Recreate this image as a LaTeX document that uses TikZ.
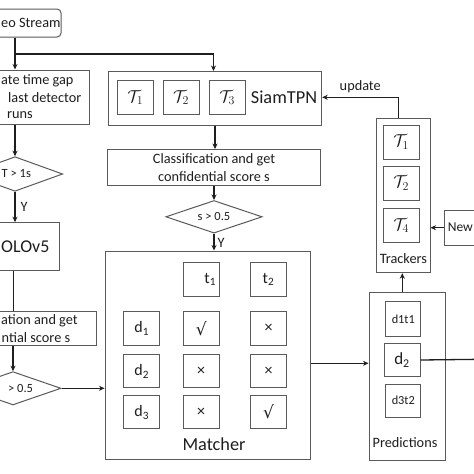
\documentclass[tikz,border=0pt]{standalone}
\usepackage{fontspec}
\setmainfont{Carlito}
\newfontfamily\symfont{DejaVu Sans}
\usetikzlibrary{shapes.geometric,arrows.meta,calc}
\definecolor{boxgray}{HTML}{5A5A5A}
\definecolor{ink}{HTML}{1E1E1E}
\tikzset{
  bx/.style={draw=boxgray,line width=1pt,inner sep=0pt,text=ink,align=center,
    font=\fontsize{14.3}{18}\selectfont},
  dia/.style={draw=boxgray,line width=1pt,diamond,aspect=2.75,inner sep=0pt,text=ink,
    font=\fontsize{12.5}{15}\selectfont},
  cell/.style={bx,minimum width=36pt,minimum height=33.6pt},
  lbl/.style={text=ink,inner sep=0pt,font=\fontsize{14.3}{18}\selectfont},
  small/.style={text=ink,inner sep=0pt,font=\fontsize{12.5}{15}\selectfont},
  big/.style={text=ink,inner sep=0pt,font=\fontsize{18.3}{22}\selectfont},
  conn/.style={draw=ink,line width=1.3pt},
  arr/.style={conn,-{Stealth[length=5.5pt,width=5pt]}},
}
\newcommand{\calT}[1]{\fontsize{18}{20}\selectfont$\mathcal{T}_{#1}$}
\newcommand{\dsub}[1]{\fontsize{16}{18}\selectfont d\textsubscript{#1}}
\begin{document}
\begin{tikzpicture}[x=1pt,y=-1pt]
\useasboundingbox (0,0) rectangle (474,474);
\fill[white] (0,0) rectangle (474,474);
\clip (0,0) rectangle (474,474);

% left column (cut by the picture's left edge)
\node[bx,rounded corners=4pt,minimum width=86pt,minimum height=28pt] (video) at (18,23) {};
\node[lbl,anchor=west] (videolbl) at (1,23) {eo Stream};
\node[bx,minimum width=136pt,minimum height=54pt] (calc) at (21,97) {};
\node[lbl,anchor=west] (calc1) at (1,81) {ate time gap};
\node[lbl,anchor=west] (calc2) at (8,98) {last detector};
\node[lbl,anchor=west] (calc3) at (7,115) {runs};
\node[dia,minimum width=95.4pt,minimum height=34.6pt] (dt) at (15,174) {};
\node[small,anchor=west] (dtlbl) at (1.5,174) {T > 1s};
\node[bx,minimum width=89pt,minimum height=48pt] (yolo) at (14.5,246.7) {};
\node[text=ink,inner sep=0pt,font=\fontsize{18}{22}\selectfont,anchor=west] (yololbl) at (1,246.7) {OLOv5};
\node[bx,minimum width=161.4pt,minimum height=34pt] (clsl) at (16,328.7) {};
\node[lbl,anchor=west] (clsl1) at (1,320.5) {ation and get};
\node[lbl,anchor=west] (clsl2) at (1.5,337.5) {ntial score s};
\node[dia,minimum width=96pt,minimum height=33.3pt] (sl) at (13,388.3) {};
\node[small,anchor=west] (sllbl) at (8,388.3) {> 0.5};

% SiamTPN
\node[bx,minimum width=213.4pt,minimum height=53.5pt] (siam) at (215,98.25) {};
\node[cell] (st1) at (135.3,97.5) {\calT{1}};
\node[cell] (st2) at (181,97.5) {\calT{2}};
\node[cell] (st3) at (227.2,97.5) {\calT{3}};
\node[big,anchor=west] (siamlbl) at (250.7,97.3) {SiamTPN};
\node[bx,minimum width=213.4pt,minimum height=35.5pt] (clsm) at (214,167.3) {Classification and get\\confidential score s};
\node[dia,minimum width=96.3pt,minimum height=32.6pt] (sm) at (214,216.8) {s > 0.5};

% Matcher
\node[bx,minimum width=205.7pt,minimum height=208pt] (matcher) at (207.9,355) {};
\node[cell,minimum width=35.7pt,minimum height=33.3pt] (t1) at (201.2,279.4) {\fontsize{16}{18}\selectfont\hspace*{18pt}t\textsubscript{1}};
\node[cell,minimum width=35.7pt,minimum height=33.3pt] (t2) at (268.5,279.4) {\fontsize{16}{18}\selectfont t\textsubscript{2}};
\node[cell,minimum width=36.5pt,minimum height=33.5pt] (d1) at (141.7,328.5) {\dsub{1}};
\node[cell,minimum width=36.5pt,minimum height=33.5pt] (d2) at (141.7,371.2) {\dsub{2}};
\node[cell,minimum width=36.5pt,minimum height=33.5pt] (d3) at (141.7,412.2) {\dsub{3}};
\node[cell,minimum width=35.7pt,minimum height=33.5pt] (m11) at (201.2,328.5) {\fontsize{17}{18}\selectfont\symfont √};
\node[cell,minimum width=35.7pt,minimum height=33.5pt] (m12) at (268.5,328.5) {\fontsize{16}{18}\selectfont ×};
\node[cell,minimum width=35.7pt,minimum height=33.5pt] (m21) at (201.2,371.2) {\fontsize{16}{18}\selectfont ×};
\node[cell,minimum width=35.7pt,minimum height=33.5pt] (m22) at (268.5,371.2) {\fontsize{16}{18}\selectfont ×};
\node[cell,minimum width=35.7pt,minimum height=33.5pt] (m31) at (201.2,412.2) {\fontsize{16}{18}\selectfont ×};
\node[cell,minimum width=35.7pt,minimum height=33.5pt] (m32) at (268.5,412.2) {\fontsize{17}{18}\selectfont\symfont √};
\node[big] (matchlbl) at (214,444) {Matcher};

% Trackers
\node[bx,minimum width=53.3pt,minimum height=154.4pt] (trackers) at (403.35,195.5) {};
\node[cell,minimum width=35.7pt,minimum height=34pt] (tr1) at (401.2,142) {\calT{1}};
\node[cell,minimum width=35.7pt,minimum height=34pt] (tr2) at (401.2,183.3) {\calT{2}};
\node[cell,minimum width=35.7pt,minimum height=34pt] (tr4) at (401.2,225.5) {\calT{4}};
\node[lbl] (trlbl) at (403.35,259) {Trackers};
\node[bx,minimum width=50pt,minimum height=35pt] (new) at (469,227.5) {};
\node[text=ink,inner sep=0pt,font=\fontsize{13.5}{16}\selectfont,anchor=east] (newlbl) at (473,227.5) {New};

% Predictions
\node[bx,minimum width=76pt,minimum height=167.7pt] (pred) at (407,376.2) {};
\node[cell,minimum width=35.3pt,minimum height=34.3pt,font=\fontsize{12.3}{14}\selectfont] (p1) at (403.3,318.9) {d1t1};
\node[cell,minimum width=36pt,minimum height=33.4pt] (p2) at (402,360) {\fontsize{17}{18}\selectfont d\textsubscript{2}};
\node[cell,minimum width=35.3pt,minimum height=33.4pt,font=\fontsize{12.3}{14}\selectfont] (p3) at (403.3,400.7) {d3t2};
\node[lbl] (predlbl) at (405,442.7) {Predictions};
\coordinate (pout) at (480,359.3);
\coordinate (split) at (15,54);

% connectors
\draw[arr] (video.south -| split) -- (calc.north -| split);
\draw[arr] (split) -| (213.5,0 |- siam.north);
\draw[arr] (calc.south -| dt.north) -- (dt.north);
\draw[arr] (dt.south) -- (yolo.north -| dt.south) node[lbl,pos=0.5,right=5pt] {Y};
\draw[conn] (yolo.south -| 13.5,0) -- (clsl.north -| 13.5,0);
\draw[arr] (clsl.south -| sl.north) -- (sl.north);
\draw[arr] (sl.east) -- (sl.east -| matcher.west);
\draw[arr] (siam.south) -- (clsm.north -| siam.south);
\draw[arr] (clsm.south -| sm.north) -- (sm.north);
\draw[arr] (sm.south) -- (sm.south |- matcher.north) node[lbl,pos=0.55,right=3pt] {Y};
\draw[arr] (matcher.east |- 0,363.3) -- (pred.west |- 0,363.3);
\draw[arr] (pred.north -| 402.3,0) -- (trackers.south -| 402.3,0);
\draw[arr] (new.west |- 0,227.7) -- (trackers.east |- 0,227.7);
\draw[arr] (trackers.north -| 398.3,0) |- (siam.east |- 0,97.3) node[lbl,pos=0.75,above=4pt] {update};
\draw[conn] (p2.east) -- (pout);
\end{tikzpicture}
\end{document}
